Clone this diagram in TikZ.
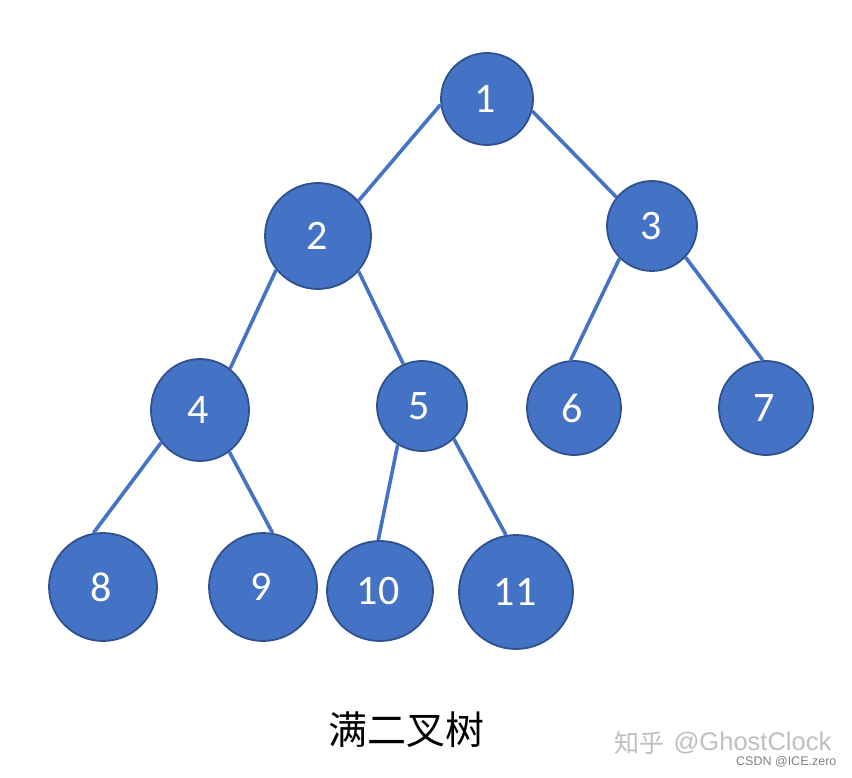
\documentclass[tikz,border=0pt]{standalone}
\usepackage{fontspec}
\setmainfont{Carlito}
\newfontfamily\cjk{Noto Sans CJK SC}
\newfontfamily\csdn{Liberation Sans}
\usetikzlibrary{positioning,shapes.geometric}
\definecolor{nodeblue}{HTML}{4472C4}
\definecolor{nodeedge}{HTML}{2F528F}
\tikzset{
    %Define style for tree nodes
    tree node/.style={
           ellipse,
           draw=nodeedge,
           line width=1.8pt,
           inner sep=0pt,
           fill=nodeblue,
           text=white,
           font=\fontsize{42}{42}\selectfont},
    % Define edge style
    branch/.style={
           draw=nodeblue,
           line width=3.6pt},
    % Define style for watermark
    mark text/.style={
           inner sep=0pt,
           anchor=west,
           text=black!25}
}
\begin{document}
\begin{tikzpicture}[x=1pt,y=-1pt]
\useasboundingbox (0,0) rectangle (852,778);
\node[tree node, minimum width=92pt, minimum height=92pt](n1) at (487,99){\kern-4pt 1};
\node[tree node, minimum width=106pt, minimum height=106pt](n2) at (318,236){\kern-2pt 2};
\node[tree node, minimum width=90pt, minimum height=90pt](n3) at (652,226){\kern-2pt 3};
\node[tree node, minimum width=98pt, minimum height=102pt](n4) at (200,410){\kern-4pt 4};
\node[tree node, minimum width=90pt, minimum height=90pt](n5) at (422,406){\kern-5pt 5};
\node[tree node, minimum width=94pt, minimum height=94pt](n6) at (574,408){\kern-4pt 6};
\node[tree node, minimum width=94pt, minimum height=94pt](n7) at (766,408){\kern-4pt 7};
\node[tree node, minimum width=108pt, minimum height=108pt](n8) at (103,587){\kern-4pt 8};
\node[tree node, minimum width=108pt, minimum height=108pt](n9) at (263,587){\kern-4pt 9};
\node[tree node, minimum width=106pt, minimum height=100pt](n10) at (380,591){\kern-4pt 10};
\node[tree node, minimum width=114pt, minimum height=114pt](n11) at (516,592){\kern-2pt 11};
\path[branch]
	(n1.187) edge (n2.41)
	(n1.-15) edge (n3.141)
	(n2.219) edge (n4.54)
	(n2.-41) edge (n5.114)
	(n3.225) edge (n6.94)
	(n3.-43) edge (n7.94)
	(n4.220) edge (n8.100)
	(n4.-55) edge (n9.80)
	(n5.238) edge (n10.92)
	(n5.-46) edge (n11.100);
\node[font=\cjk\fontsize{39}{39}\selectfont](title) at (406,730){满二叉树};
\node[mark text, font=\cjk\fontsize{25}{25}\selectfont](zhihu) at (614,743){知乎};
\node[mark text, font=\csdn\fontsize{25.5}{25.5}\selectfont, right=9pt of zhihu](ghost){@GhostClock};
\node[mark text, font=\csdn\fontsize{12.5}{12.5}\selectfont, text=black!50](csdn) at (736,762){CSDN @ICE.zero};
\end{tikzpicture}
\end{document}
